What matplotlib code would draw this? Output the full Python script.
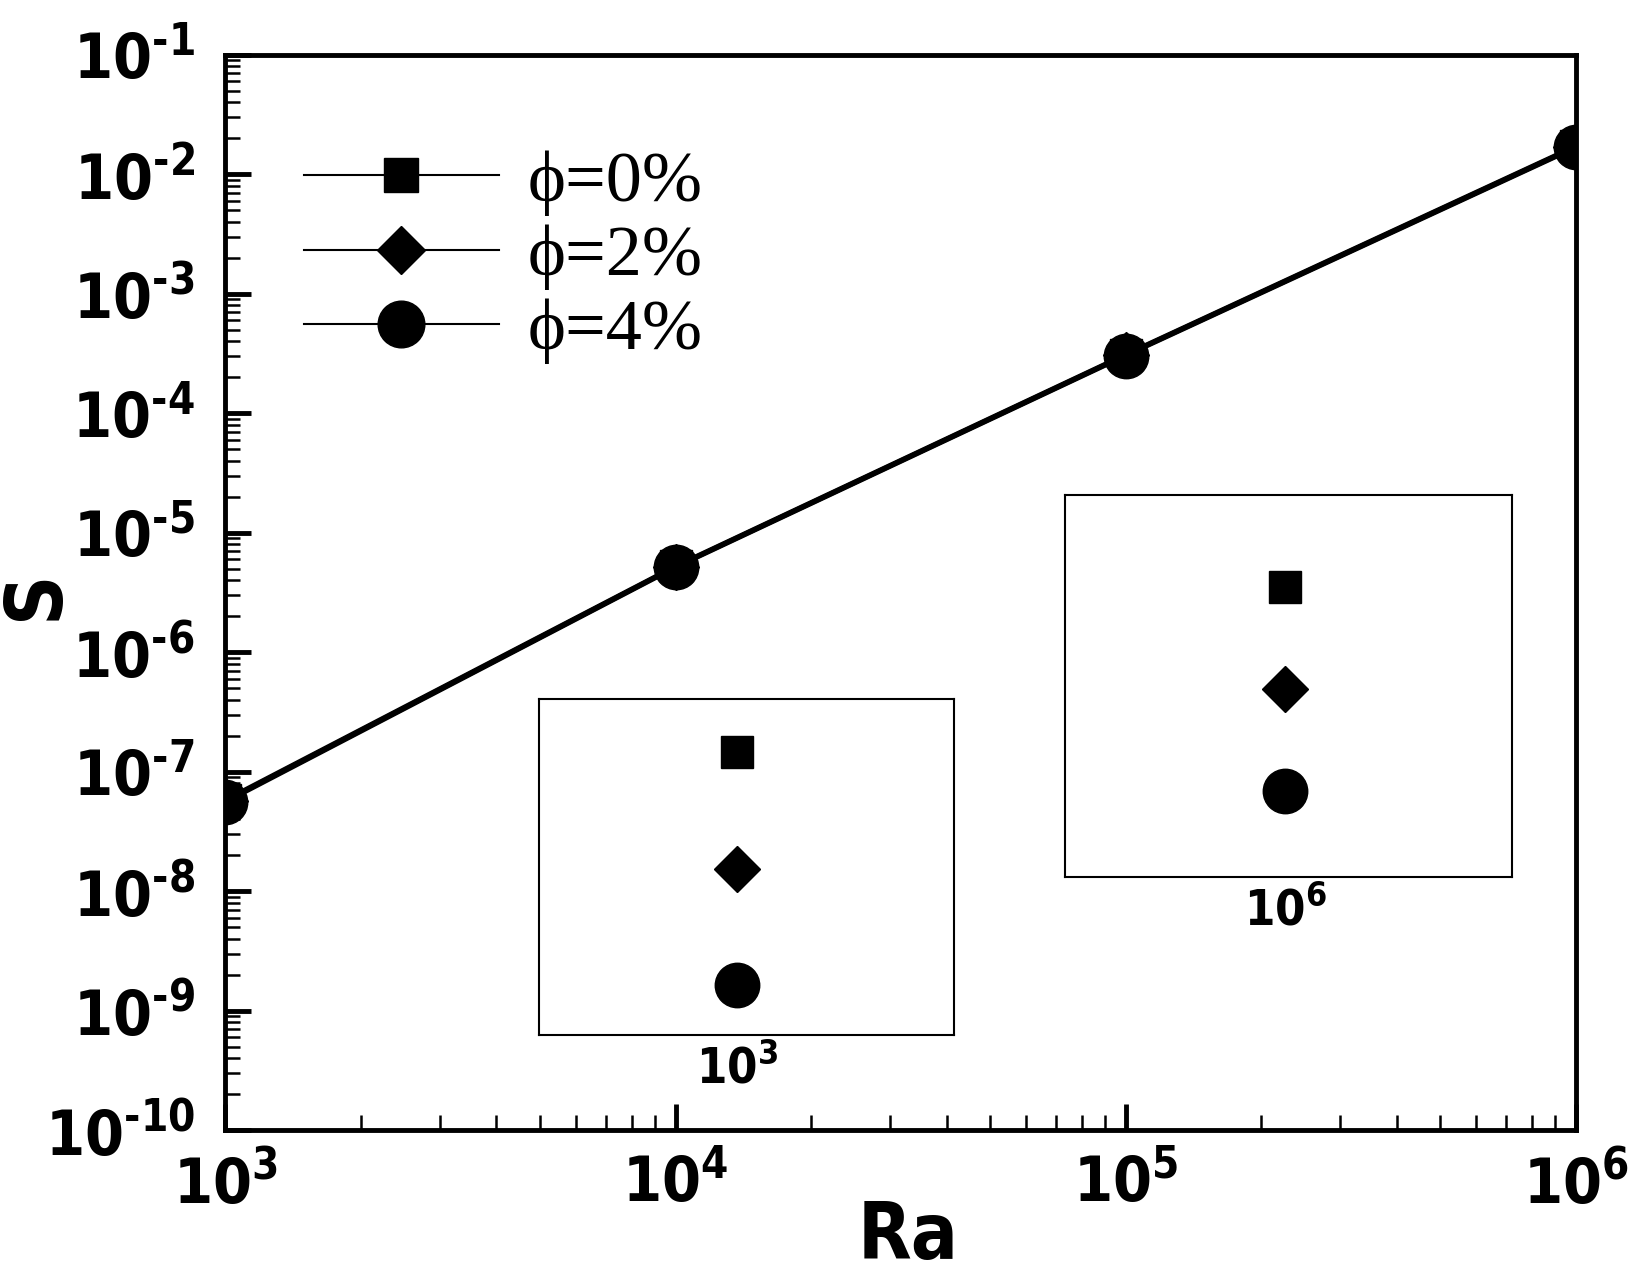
import math
import matplotlib
matplotlib.use("Agg")
import matplotlib.pyplot as plt
from matplotlib import font_manager
from matplotlib.lines import Line2D
from matplotlib.ticker import FixedLocator, NullFormatter, FuncFormatter

# data
ra = [1e3, 1e4, 1e5, 1e6]
s_phi0 = [5.80e-8, 5.25e-6, 3.10e-4, 1.72e-2]
s_phi2 = [5.70e-8, 5.20e-6, 3.07e-4, 1.70e-2]
s_phi4 = [5.60e-8, 5.15e-6, 3.04e-4, 1.68e-2]
series_labels = ["\u03d5=0%", "\u03d5=2%", "\u03d5=4%"]
series_markers = ["s", "D", "o"]
marker_sizes = {"s": 23, "D": 23, "o": 32}

x_decades = [3, 4, 5, 6]
y_decades = list(range(-10, 0))


def pick_sans():
    # look for a narrow / condensed bold face, else plain bold
    best = None
    for f in font_manager.fontManager.ttflist:
        fn = f.fname.lower()
        if ("narrow" in fn or "condensed" in fn) and "bold" in fn and "oblique" not in fn and "italic" not in fn:
            rank = 0 if "liberation" in fn else (1 if "dejavusans" in fn else 2)
            if best is None or rank < best[0]:
                best = (rank, f)
    if best is None:
        return "Liberation Sans", "normal"
    return best[1].name, best[1].stretch


sans, stretch = pick_sans()
pattern = "%s:bold:stretch=%s" % (sans, stretch) if stretch != "normal" else sans + ":bold"

plt.rcParams["font.family"] = [sans, "DejaVu Sans"]
plt.rcParams["font.weight"] = "bold"
plt.rcParams["font.stretch"] = stretch
plt.rcParams["mathtext.fontset"] = "custom"
plt.rcParams["mathtext.rm"] = pattern
plt.rcParams["mathtext.it"] = pattern
plt.rcParams["mathtext.bf"] = pattern
plt.rcParams["mathtext.default"] = "rm"


def decade(v, pos):
    e = int(round(math.log10(v)))
    exp = str(e).replace("-", "\u2010")
    return r"$10^{%s}$" % exp


def minors(decs):
    out = []
    for d in decs[:-1]:
        out += [k * 10.0 ** d for k in range(2, 10)]
    return out


fig = plt.figure(figsize=(16.33, 12.73), dpi=100)
ax = fig.add_axes([0.138, 0.112, 0.827, 0.845])

all_series = [s_phi0, s_phi2, s_phi4]
for s, m in zip(all_series, series_markers):
    ax.plot(ra, s, color="black", lw=3.5, marker=m, ms=marker_sizes[m],
            markerfacecolor="black", markeredgecolor="black")

ax.set_xscale("log")
ax.set_yscale("log")
ax.set_xlim(1e3, 1e6)
ax.set_ylim(1e-10, 1e-1)

ax.xaxis.set_major_locator(FixedLocator([10.0 ** d for d in x_decades]))
ax.yaxis.set_major_locator(FixedLocator([10.0 ** d for d in y_decades]))
ax.xaxis.set_minor_locator(FixedLocator(minors(x_decades)))
ax.yaxis.set_minor_locator(FixedLocator(minors(y_decades)))
ax.xaxis.set_major_formatter(FuncFormatter(decade))
ax.yaxis.set_major_formatter(FuncFormatter(decade))
ax.xaxis.set_minor_formatter(NullFormatter())
ax.yaxis.set_minor_formatter(NullFormatter())

ax.tick_params(which="major", direction="in", length=19, width=3.5, labelsize=45)
ax.tick_params(which="minor", direction="in", length=11, width=1.8)
ax.tick_params(axis="y", which="major", pad=22)
ax.tick_params(axis="x", which="major", pad=16)
for side in ["left", "bottom", "top", "right"]:
    ax.spines[side].set_linewidth(3.5)

fig.text(0.022, 0.533, "S", rotation=90, fontsize=56, fontweight="bold",
         ha="center", va="center")
fig.text(0.556, 0.028, "Ra", fontsize=56, fontweight="bold",
         ha="center", va="center")

# legend with thin lines
handles = [Line2D([], [], color="black", lw=1.5, marker=m, ms=marker_sizes[m] * 1.05)
           for m in series_markers]
leg = ax.legend(handles, series_labels, loc="center left",
                bbox_to_anchor=(0.186, 0.798), bbox_transform=fig.transFigure,
                frameon=False, borderpad=0, borderaxespad=0,
                handlelength=2.7, handletextpad=0.4, labelspacing=0.12,
                prop={"family": ["Liberation Serif", "DejaVu Serif"],
                      "size": 52, "weight": "normal", "stretch": "normal"})

# zoomed insets at Ra = 1e3 and Ra = 1e6
insets = [
    (0, [0.330, 0.187, 0.254, 0.264], (5.557e-8, 5.846e-8), 0.477),
    (3, [0.652, 0.311, 0.274, 0.300], (1.663e-2, 1.738e-2), 0.493),
]
for idx, rect, ylim, xfrac in insets:
    ia = fig.add_axes(rect)
    x0 = ra[idx]
    for s, m in zip(all_series, series_markers):
        ia.plot([x0], [s[idx]], linestyle="none", marker=m, ms=marker_sizes[m],
                color="black")
    w = x0 * 0.04
    ia.set_xlim(x0 - xfrac * w, x0 + (1 - xfrac) * w)
    ia.set_ylim(*ylim)
    ia.set_yticks([])
    ia.set_xticks([x0])
    ia.set_xticklabels([decade(x0, None)])
    ia.tick_params(axis="x", length=0, pad=7, labelsize=35)
    for side in ia.spines.values():
        side.set_linewidth(1.5)

fig.savefig("out.png", dpi=100)
